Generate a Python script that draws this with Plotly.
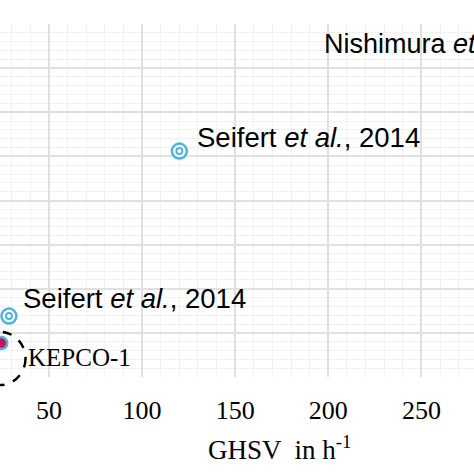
import plotly.graph_objects as go

# Data
seifert_x = [120, 28.5]
seifert_y = [5.12, 1.38]
seifert_labels = ["Seifert <i>et al.</i>, 2014", "Seifert <i>et al.</i>, 2014"]
kepco_x = [24.4]
kepco_y = [0.77]
nishimura_label = "Nishimura <i>et al.</i>, 2016"
x_ticks = [50, 100, 150, 200, 250]

BLUE = "#4fb3dc"
MAG = "#c2185b"
SANS = "Arial, Liberation Sans"
SERIF = "Times New Roman, Liberation Serif"

fig = go.Figure()

# KEPCO-1 point
fig.add_trace(go.Scatter(x=kepco_x, y=kepco_y, mode="markers",
                         marker=dict(symbol="circle", size=12, color=MAG,
                                     line=dict(color=BLUE, width=2.5)),
                         showlegend=False, cliponaxis=True, hoverinfo="skip"))
# Seifert points (bullseye)
fig.add_trace(go.Scatter(x=seifert_x, y=seifert_y, mode="markers",
                         marker=dict(symbol="circle", size=15, color="white",
                                     line=dict(color=BLUE, width=2.5)),
                         showlegend=False, cliponaxis=True, hoverinfo="skip"))
fig.add_trace(go.Scatter(x=seifert_x, y=seifert_y, mode="markers",
                         marker=dict(symbol="circle", size=6, color="white",
                                     line=dict(color=BLUE, width=2)),
                         showlegend=False, cliponaxis=True, hoverinfo="skip"))

# dashed ellipse around KEPCO-1
fig.add_shape(type="circle", xref="x", yref="paper",
              x0=kepco_x[0] - 14.7, x1=kepco_x[0] + 13.0,
              y0=-0.023, y1=0.128,
              line=dict(color="black", width=2.5, dash="dash"))

# labels
fig.add_annotation(x=seifert_x[0] + 8.6, y=seifert_y[0] + 0.3, text=seifert_labels[0],
                   showarrow=False, xanchor="left", yanchor="middle",
                   font=dict(family=SANS, size=27.5, color="black"))
fig.add_annotation(x=seifert_x[1] + 6.5, y=seifert_y[1] + 0.4, text=seifert_labels[1],
                   showarrow=False, xanchor="left", yanchor="middle",
                   font=dict(family=SANS, size=27.5, color="black"))
fig.add_annotation(x=196.5, y=7.55, text=nishimura_label,
                   showarrow=False, xanchor="left", yanchor="middle",
                   font=dict(family=SANS, size=27, color="black"))
fig.add_annotation(x=37.8, y=0.45, text="KEPCO-1",
                   showarrow=False, xanchor="left", yanchor="middle",
                   font=dict(family=SERIF, size=25, color="black"))
fig.add_annotation(x=174, xref="x", y=-0.2, yref="paper", yanchor="middle",
                   text="GHSV  in h<sup>-1</sup>", showarrow=False,
                   font=dict(family=SERIF, size=27, color="black"))

fig.update_xaxes(range=[23.7, 278.2], tickvals=x_ticks, ticktext=[str(v) for v in x_ticks],
                 showgrid=True, gridcolor="#e0e0e0", gridwidth=1.5,
                 minor=dict(dtick=10, showgrid=True, gridcolor="#f1f1f1", gridwidth=1),
                 zeroline=False, showline=False,
                 ticks="outside", ticklen=10, tickcolor="rgba(0,0,0,0)",
                 tickfont=dict(family=SERIF, size=26, color="black"))
fig.update_yaxes(range=[0, 8], dtick=1, showticklabels=False,
                 showgrid=True, gridcolor="#e0e0e0", gridwidth=1.5,
                 minor=dict(dtick=0.2, showgrid=True, gridcolor="#f1f1f1", gridwidth=1),
                 zeroline=False, showline=False)

fig.update_layout(width=474, height=474, margin=dict(l=0, r=0, t=24, b=97),
                  paper_bgcolor="white", plot_bgcolor="white", showlegend=False)

fig.write_html("out.html", config={"displayModeBar": False},
               post_script="document.body.style.margin='0';")
